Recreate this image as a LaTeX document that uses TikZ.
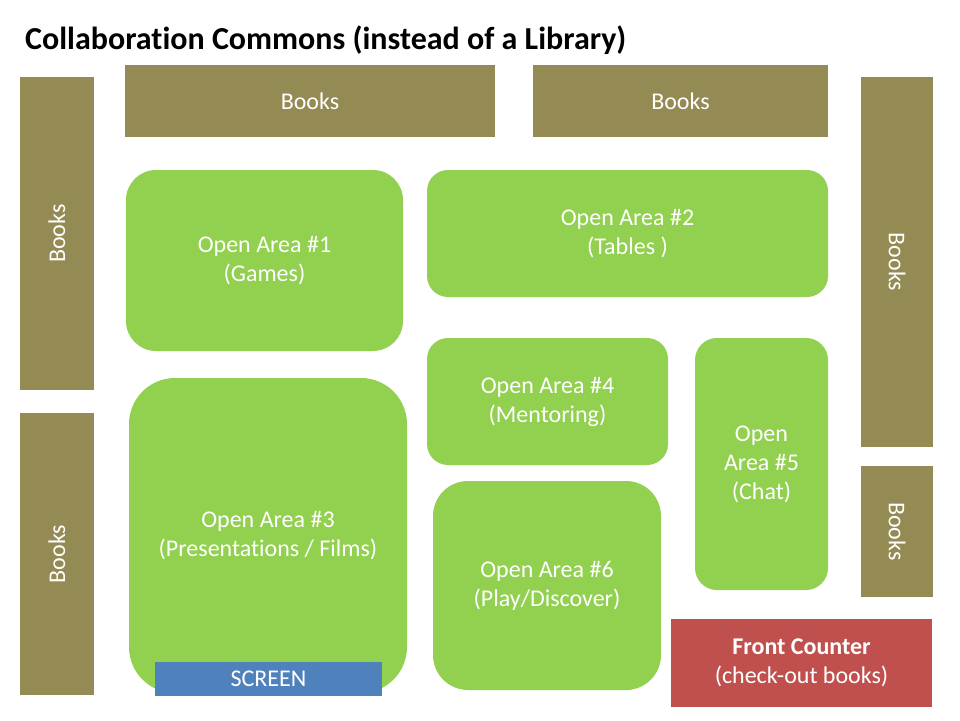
\documentclass[tikz,border=0pt]{standalone}
\usepackage{fontspec}
\setmainfont[Ligatures=NoCommon]{Carlito}
\usetikzlibrary{positioning}

\definecolor{shelf}{HTML}{948A54}
\definecolor{openarea}{HTML}{92D050}
\definecolor{screenblue}{HTML}{4F81BD}
\definecolor{counterred}{HTML}{C0504D}

\begin{document}
\begin{tikzpicture}[
    x=1pt, y=-1pt,
    books/.style={
        rectangle,
        fill=shelf,
        text=white,
        inner sep=0pt,
        font=\fontsize{24}{29}\selectfont
    },
    area/.style={
        rectangle,
        rounded corners=#1,
        fill=openarea,
        text=white,
        align=center,
        inner sep=0pt,
        font=\fontsize{24}{29}\selectfont
    },
    screen/.style={
        rectangle,
        fill=screenblue,
        text=white,
        inner sep=0pt,
        font=\fontsize{24}{29}\selectfont
    },
    counter/.style={
        rectangle,
        fill=counterred,
        text=white,
        align=center,
        inner sep=0pt,
        font=\fontsize{24}{29}\selectfont
    }
]
\useasboundingbox (0,0) rectangle (960,720);

\node[anchor=west, inner sep=0pt, font=\fontsize{32}{38}\selectfont\bfseries] (title) at (25,40) {Collaboration Commons (instead of a Library)};

% shelves
\node[books, minimum width=370pt, minimum height=72pt] (shelf1) at (310,101) {Books};
\node[books, minimum width=295pt, minimum height=72pt] (shelf2) at (680.5,101) {Books};
\node[books, rotate=90, minimum width=313pt, minimum height=74pt] (shelf3) at (57,233.5) {Books};
\node[books, rotate=90, minimum width=282pt, minimum height=74pt] (shelf4) at (57,554) {Books};
\node[books, rotate=-90, minimum width=370pt, minimum height=72pt] (shelf5) at (897,262) {Books};
\node[books, rotate=-90, minimum width=131pt, minimum height=72pt] (shelf6) at (897,531.5) {Books};

% open areas
\node[area=30pt, minimum width=277pt, minimum height=181pt] (area1) at (264.5,260.5) {Open Area \#1\\(Games)};
\node[area=21pt, minimum width=401pt, minimum height=127pt] (area2) at (627.5,233.5) {Open Area \#2\\(Tables )};
\node[area=46pt, minimum width=278pt, minimum height=315pt] (area3) at (268,535.5) {Open Area \#3\\(Presentations / Films)};
\node[area=21pt, minimum width=241pt, minimum height=127pt] (area4) at (547.5,401.5) {Open Area \#4\\(Mentoring)};
\node[area=22pt, minimum width=133pt, minimum height=252pt] (area5) at (761.5,464) {Open\\Area \#5\\(Chat)};
\node[area=35pt, minimum width=228pt, minimum height=209pt] (area6) at (547,585.5) {Open Area \#6\\(Play/Discover)};

\node[screen, minimum width=227pt, minimum height=34pt] (screen) at (268.5,679) {SCREEN};
\node[counter, minimum width=261pt, minimum height=88pt] (counter) at (801.5,663) {\textbf{Front Counter}\\(check-out books)};

\end{tikzpicture}
\end{document}
